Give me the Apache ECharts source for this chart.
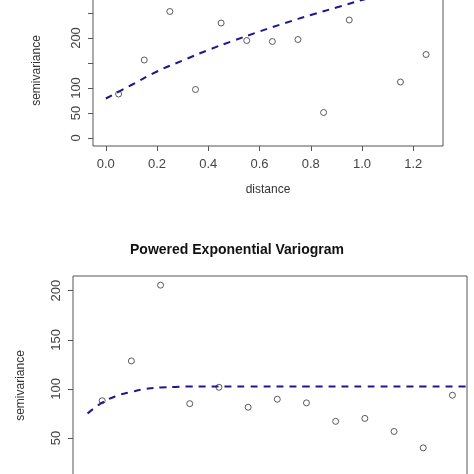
<!DOCTYPE html>
<html>
<head>
<meta charset="utf-8">
<script src="https://cdn.jsdelivr.net/npm/echarts@6/dist/echarts.min.js"></script>
<style>
html,body{margin:0;padding:0;width:474px;height:474px;overflow:hidden;background:#fff}
#main{position:absolute;left:0;top:-20px;width:474px;height:540px}
</style>
</head>
<body>
<div id="main"></div>
<script>
// top panel (exponential fit, cropped)
var topDist = [0.05, 0.15, 0.25, 0.35, 0.45, 0.55, 0.65, 0.75, 0.85, 0.95, 1.15, 1.25];
var topGamma = [88, 156, 253, 97, 230, 195, 193, 197, 51, 236, 112, 167];
var topFitX = [0, 0.1, 0.2, 0.3, 0.4, 0.5, 0.6, 0.7, 0.8, 0.9, 1.0, 1.1, 1.2, 1.3];
var topFitY = [79, 106, 133, 155, 176, 195, 213, 230, 246, 261, 276, 290, 303, 315];

// bottom panel (powered exponential)
var botDist = [1, 2, 3, 4, 5, 6, 7, 8, 9, 10, 11, 12, 13];
var botGamma = [88, 128.5, 205.7, 85, 101.7, 81.4, 89.5, 85.8, 67, 70, 56.7, 40, 93.6];
var botFitX = [0.5, 1, 1.5, 2, 2.5, 3, 3.5, 4, 6, 8, 10, 12, 13.5];
var botFitY = [75, 86, 93, 97, 100, 101.5, 102, 102.5, 102.5, 102.5, 102.5, 102.5, 102.5];

function pairs(xs, ys) { return xs.map(function (x, i) { return [x, ys[i]]; }); }

var font = 'Liberation Sans';
var lab = { color: '#444', fontFamily: font, fontSize: 13 };
var tick = { show: true, inside: false, length: 5, lineStyle: { color: '#555' } };
var noLine = { show: false, onZero: false };

var chart = echarts.init(document.getElementById('main'));
chart.setOption({
    animation: false,
    title: {
        text: 'Powered Exponential Variogram',
        left: 'center', top: 258,
        textStyle: { fontFamily: font, fontSize: 14, fontWeight: 'bold', color: '#111' }
    },
    grid: [
        { left: 93, top: 15, width: 350, height: 151, show: true, borderColor: '#555', borderWidth: 1 },
        { left: 73, top: 296, width: 394, height: 219, show: true, borderColor: '#555', borderWidth: 1 }
    ],
    xAxis: [
        {
            gridIndex: 0, type: 'value', min: -0.05, max: 1.316,
            name: 'distance', nameLocation: 'middle', nameGap: 38,
            nameTextStyle: { fontFamily: font, fontSize: 12, color: '#333' },
            axisLine: noLine, splitLine: { show: false },
            axisTick: Object.assign({ customValues: [0, 0.2, 0.4, 0.6, 0.8, 1.0, 1.2] }, tick),
            axisLabel: Object.assign({ margin: 12, customValues: [0, 0.2, 0.4, 0.6, 0.8, 1.0, 1.2], formatter: function (v) { return v.toFixed(1); } }, lab)
        },
        {
            gridIndex: 1, type: 'value', min: 0, max: 13.5,
            axisLine: noLine, splitLine: { show: false },
            axisTick: { show: false }, axisLabel: { show: false }
        }
    ],
    yAxis: [
        {
            gridIndex: 0, type: 'value', min: -16, max: 286,
            name: 'semivariance', nameLocation: 'middle', nameGap: 50,
            nameTextStyle: { fontFamily: font, fontSize: 12, color: '#333' },
            axisLine: noLine, splitLine: { show: false },
            axisTick: Object.assign({ customValues: [0, 50, 100, 150, 200, 250] }, tick),
            axisLabel: Object.assign({ rotate: 90, margin: 10, customValues: [0, 50, 100, 200] }, lab)
        },
        {
            gridIndex: 1, type: 'value', min: -8, max: 215,
            name: 'semivariance', nameLocation: 'middle', nameGap: 46,
            nameTextStyle: { fontFamily: font, fontSize: 12, color: '#333' },
            axisLine: noLine, splitLine: { show: false },
            axisTick: Object.assign({ customValues: [0, 50, 100, 150, 200] }, tick),
            axisLabel: Object.assign({ rotate: 90, margin: 10, customValues: [0, 50, 100, 150, 200] }, lab)
        }
    ],
    series: [
        {
            type: 'line', xAxisIndex: 0, yAxisIndex: 0, data: pairs(topFitX, topFitY),
            showSymbol: false, smooth: true, clip: true,
            lineStyle: { color: '#1a1a8c', width: 2, type: [7, 6] }
        },
        {
            type: 'scatter', xAxisIndex: 0, yAxisIndex: 0, data: pairs(topDist, topGamma),
            symbol: 'circle', symbolSize: 6,
            itemStyle: { color: 'rgba(0,0,0,0)', borderColor: '#333', borderWidth: 1 }
        },
        {
            type: 'line', xAxisIndex: 1, yAxisIndex: 1, data: pairs(botFitX, botFitY),
            showSymbol: false, smooth: true, clip: true,
            lineStyle: { color: '#1a1a8c', width: 2, type: [7, 6] }
        },
        {
            type: 'scatter', xAxisIndex: 1, yAxisIndex: 1, data: pairs(botDist, botGamma),
            symbol: 'circle', symbolSize: 6,
            itemStyle: { color: 'rgba(0,0,0,0)', borderColor: '#333', borderWidth: 1 }
        }
    ]
});
</script>
</body>
</html>
